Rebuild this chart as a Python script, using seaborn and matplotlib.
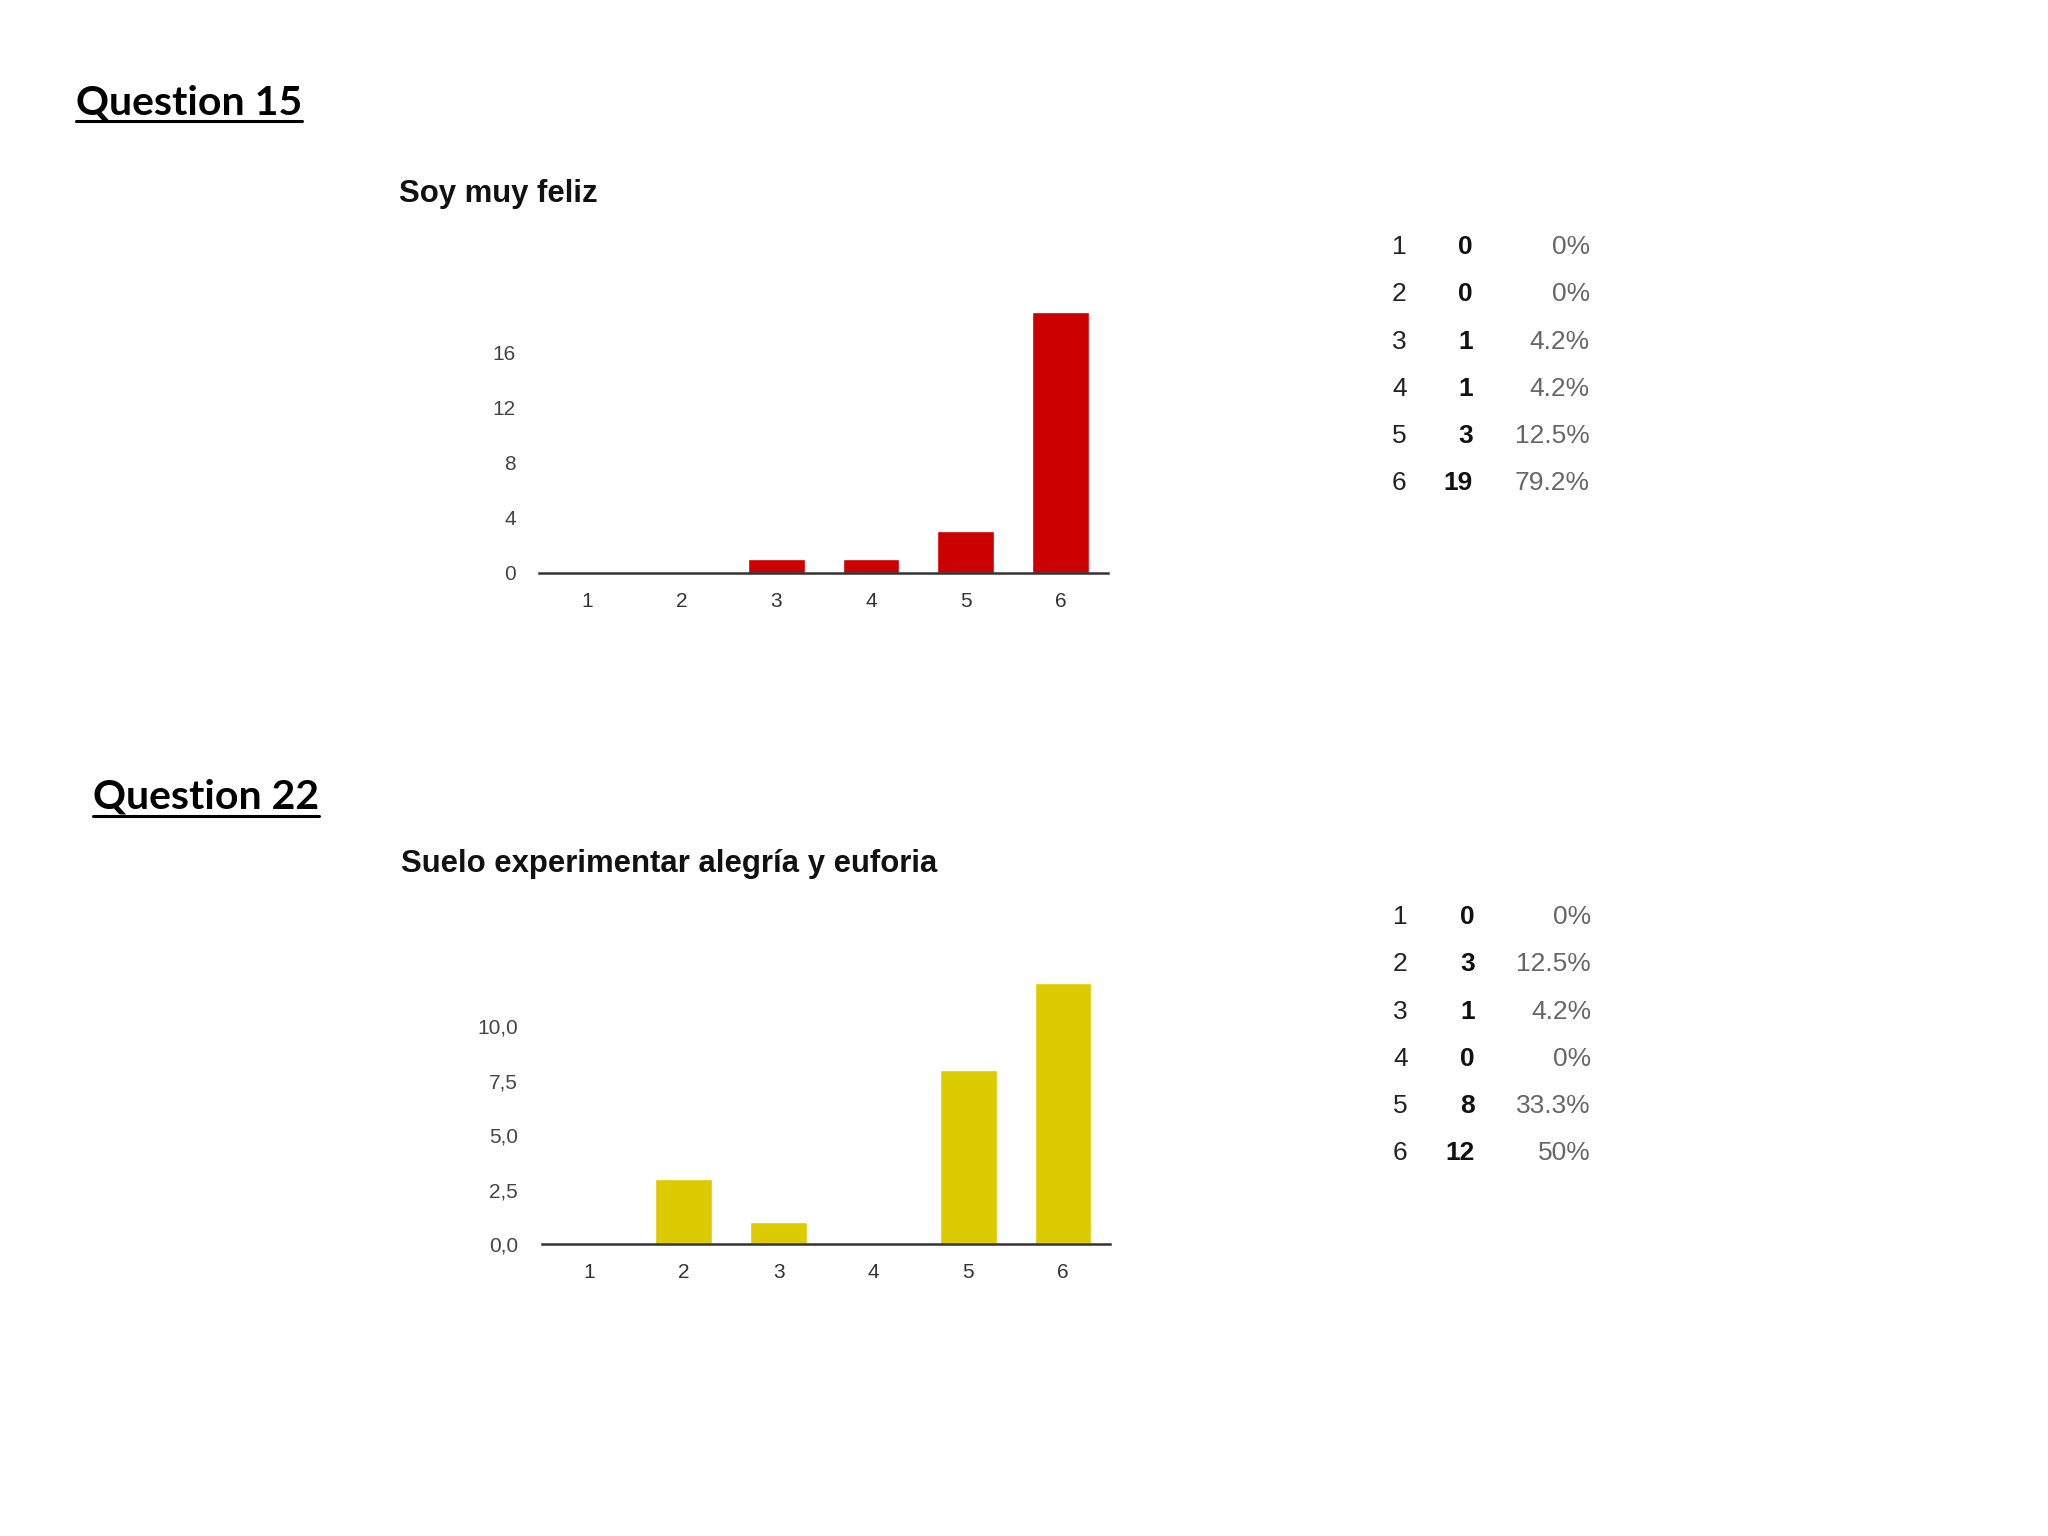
import matplotlib
matplotlib.use("Agg")
import matplotlib.pyplot as plt
import pandas as pd
import seaborn as sns
from matplotlib.lines import Line2D
from matplotlib.ticker import FuncFormatter

# survey data
categories = ["1", "2", "3", "4", "5", "6"]

q15_heading = "Question 15"
q15_title = "Soy muy feliz"
q15_counts = [0, 0, 1, 1, 3, 19]
q15_percents = ["0%", "0%", "4.2%", "4.2%", "12.5%", "79.2%"]
q15_yticks = [0, 4, 8, 12, 16]

q22_heading = "Question 22"
q22_title = "Suelo experimentar alegría y euforia"
q22_counts = [0, 3, 1, 0, 8, 12]
q22_percents = ["0%", "12.5%", "4.2%", "0%", "33.3%", "50%"]
q22_yticks = [0, 2.5, 5, 7.5, 10]

W, H = 2048, 1536
sns.set_theme(style="white")
ARIAL = ["Liberation Sans", "DejaVu Sans"]
HEAD = ["Lato", "Open Sans", "DejaVu Sans"]


def fx(px):
    return px / W


def fy(py):
    return 1 - py / H


fig = plt.figure(figsize=(W / 100, H / 100), dpi=100)
fig.patch.set_facecolor("white")


def draw_block(heading, head_xy, title, title_xy, counts, percents, yticks,
               color, ax_box, decimal, table_x, table_y0):
    # heading, underlined later
    htxt = fig.text(fx(head_xy[0]), fy(head_xy[1]), heading, family=HEAD,
                    fontsize=29.5, fontweight="bold", color="black", va="baseline")
    fig.text(fx(title_xy[0]), fy(title_xy[1]), title, family=ARIAL,
             fontsize=22.4, fontweight="bold", color="#111111", va="baseline")

    left, top, right, bottom = ax_box
    ax = fig.add_axes([fx(left), fy(bottom), fx(right - left), (bottom - top) / H])
    df = pd.DataFrame({"cat": categories, "n": counts})
    sns.barplot(data=df, x="cat", y="n", order=categories, color=color,
                width=0.6, saturation=1, ax=ax)
    ax.set_xlim(-0.5, 5.5)
    ax.set_ylim(0, max(counts))
    ax.set_yticks(yticks)
    if decimal:
        ax.yaxis.set_major_formatter(FuncFormatter(lambda v, p: f"{v:.1f}".replace(".", ",")))
    else:
        ax.yaxis.set_major_formatter(FuncFormatter(lambda v, p: f"{v:.0f}"))
    ax.set_xlabel("")
    ax.set_ylabel("")
    for s in ("top", "right", "left"):
        ax.spines[s].set_visible(False)
    ax.spines["bottom"].set_color("#333333")
    ax.spines["bottom"].set_linewidth(1.8)
    ax.set_facecolor("none")
    ax.tick_params(axis="y", length=0, pad=17, labelcolor="#444444")
    ax.tick_params(axis="x", length=0, pad=14, labelcolor="#333333")
    for lab in ax.get_xticklabels() + ax.get_yticklabels():
        lab.set_family(ARIAL)
        lab.set_fontsize(15)

    # table of counts at the right
    for i, (c, n, p) in enumerate(zip(categories, counts, percents)):
        y = fy(table_y0 + i * 47.3)
        fig.text(fx(table_x[0]), y, c, family=ARIAL, fontsize=19,
                 color="#222222", ha="left", va="center")
        fig.text(fx(table_x[1]), y, str(n), family=ARIAL, fontsize=19,
                 fontweight="bold", color="#111111", ha="right", va="center")
        fig.text(fx(table_x[2]), y, p, family=ARIAL, fontsize=19,
                 color="#666666", ha="right", va="center")
    return htxt


h1 = draw_block(q15_heading, (76, 114), q15_title, (399, 202), q15_counts,
                q15_percents, q15_yticks, "#CC0000", (539.3, 311.7, 1108, 572.7),
                False, (1392, 1473, 1590), 247)
h2 = draw_block(q22_heading, (93, 809), q22_title, (401, 872), q22_counts,
                q22_percents, q22_yticks, "#DBCB00", (541.7, 982.7, 1110.4, 1244),
                True, (1393, 1475, 1591), 917)

# underline the headings
fig.canvas.draw()
renderer = fig.canvas.get_renderer()
for t in (h1, h2):
    bb = t.get_window_extent(renderer)
    x0, y0 = t.get_position()
    yline = y0 - 7 / H
    fig.add_artist(Line2D([bb.x0 / W, bb.x1 / W], [yline, yline],
                          transform=fig.transFigure, color="black", lw=2.2))

fig.savefig("out.png", dpi=100)
